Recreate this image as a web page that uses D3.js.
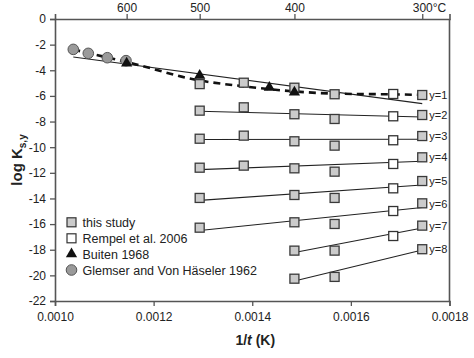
<!DOCTYPE html>
<html><head><meta charset="utf-8">
<script src="https://cdn.jsdelivr.net/npm/d3@7/dist/d3.min.js"></script>
<style>
body{margin:0;background:#fff;}
svg{display:block;font-family:"Liberation Sans",Arial,sans-serif;}
</style></head>
<body><svg id="c" width="474" height="358"></svg>
<script>
// ---- data ----
const xTicks = [0.0010, 0.0012, 0.0014, 0.0016, 0.0018];
const yTicks = [0, -2, -4, -6, -8, -10, -12, -14, -16, -18, -20, -22];
const topTempsC = [600, 500, 400, 300];
const topLabels = ["600", "500", "400", "300"];
// this study: columns at 500, 450, 400, 365, 300 °C
const studyX = [0.0012934, 0.0013828, 0.0014855, 0.0015670, 0.0017447];
const studyY1 = [-5.08, -4.97, -5.36, -5.87, -5.93];
const studyY2 = [-7.15, -6.89, -7.43, -7.80, -7.49];
const studyY3 = [-9.34, -9.10, -9.54, -9.88, -9.13];
const studyY4 = [-11.60, -11.44, -11.65, -11.91, -10.79];
const studyY5 = [-13.96, null, -13.73, -13.96, -12.64];
const studyY6 = [-16.28, null, -15.86, -15.99, -14.38];
const studyY7 = [null, null, -18.07, -18.07, -16.12];
const studyY8 = [null, null, -20.26, -20.12, -17.96];
// Rempel et al. 2006 (320 °C)
const rempelX = 0.0016859;
const rempelY = [-5.85, -7.59, -9.46, -11.31, -13.21, -14.98, -16.93];
// Buiten 1968
const buitenX = [0.0011453, 0.0012934, 0.0014347, 0.0014855];
const buitenY = [-3.46, -4.40, -5.35, -5.72];
// Glemser and Von Häseler 1962
const glemserX = [0.0010371, 0.0010675, 0.0011061, 0.0011440];
const glemserY = [-2.37, -2.68, -3.02, -3.25];
// solid fit lines per y: [x0, y0, x1, y1]
const fitY = ["y=1","y=2","y=3","y=4","y=5","y=6","y=7","y=8"];
const fitX0 = [0.0010371, 0.0012934, 0.0012934, 0.0012934, 0.0012934, 0.0012934, 0.0014855, 0.0014855];
const fitX1 = [0.0017447, 0.0017447, 0.0017447, 0.0017447, 0.0017447, 0.0017447, 0.0017447, 0.0017447];
const fitV0 = [-2.96, -7.20, -9.40, -11.75, -14.15, -16.50, -18.22, -20.44];
const fitV1 = [-6.60, -7.65, -9.38, -11.10, -12.95, -14.70, -16.30, -18.02];
// dashed curve (y=1 overall)
const dashX = [0.0010371, 0.0011000, 0.0011453, 0.0012934, 0.0013828, 0.0014855, 0.0015670, 0.0016859, 0.0017447];
const dashY = [-2.38, -2.95, -3.35, -4.80, -5.25, -5.65, -5.82, -5.88, -5.92];
const legendLabels = ["this study", "Rempel et al. 2006", "Buiten 1968", "Glemser and Von Häseler 1962"];

// ---- chart ----
const svg = d3.select("#c");
const L = 55, R = 449.5, T = 19, B = 301;
const x = d3.scaleLinear().domain([0.0010, 0.0018]).range([L, R]);
const y = d3.scaleLinear().domain([-22, 0]).range([B, T]);
const frameCol = "#555";

// axes
const gL = svg.append("g").attr("transform", `translate(${L},0)`)
  .call(d3.axisLeft(y).tickValues(yTicks).tickFormat(d => String(d)).tickSize(5).tickPadding(4));
const gB = svg.append("g").attr("transform", `translate(0,${B})`)
  .call(d3.axisBottom(x).tickValues(xTicks).tickFormat(d3.format(".4f")).tickSize(5).tickPadding(6));
const topX = topTempsC.map(t => 1 / (t + 273.15));
const gT = svg.append("g").attr("transform", `translate(0,${T})`)
  .call(d3.axisTop(x).tickValues(topX).tickFormat((d, i) => topLabels[i]).tickSize(5).tickPadding(2));
[gL, gB, gT].forEach(g => {
  g.selectAll(".domain").attr("stroke", frameCol).attr("stroke-width", 1.6);
  g.selectAll(".tick line").attr("stroke", frameCol).attr("stroke-width", 1.3);
  g.selectAll("text").attr("font-size", 12).attr("fill", "#222")
    .attr("font-family", "'Liberation Sans',Arial,sans-serif");
});
// add °C to last top label, keep number centred on tick
const lastTop = gT.selectAll(".tick text").filter((d, i) => i === topLabels.length - 1);
lastTop.append("tspan").text("°C");
{
  const node = lastTop.node();
  const full = node.getComputedTextLength();
  const num = node.getSubStringLength(0, topLabels[topLabels.length - 1].length);
  lastTop.attr("text-anchor", "start").attr("x", -num / 2);
}
// right border
svg.append("line").attr("x1", R).attr("x2", R).attr("y1", T).attr("y2", B)
  .attr("stroke", frameCol).attr("stroke-width", 1.6);

// fit lines
const plot = svg.append("g");
fitY.forEach((lab, i) => {
  plot.append("line")
    .attr("x1", x(fitX0[i])).attr("y1", y(fitV0[i]))
    .attr("x2", x(fitX1[i])).attr("y2", y(fitV1[i]))
    .attr("stroke", "#222").attr("stroke-width", 1.1);
});
// dashed curve
const dashPts = dashX.map((d, i) => [d, dashY[i]]);
plot.append("path")
  .attr("d", d3.line().x(d => x(d[0])).y(d => y(d[1])).curve(d3.curveMonotoneX)(dashPts))
  .attr("fill", "none").attr("stroke", "#111").attr("stroke-width", 2.6)
  .attr("stroke-dasharray", "7,5");

// markers
const sq = 9;
const studySeries = [studyY1, studyY2, studyY3, studyY4, studyY5, studyY6, studyY7, studyY8];
const studyPts = [];
studySeries.forEach(s => s.forEach((v, j) => { if (v !== null) studyPts.push([studyX[j], v]); }));
// Rempel
plot.selectAll("rect.rempel").data(rempelY).join("rect").attr("class", "rempel")
  .attr("x", x(rempelX) - sq / 2).attr("y", d => y(d) - sq / 2)
  .attr("width", sq).attr("height", sq)
  .attr("fill", "#fff").attr("stroke", "#333").attr("stroke-width", 1.3);
plot.selectAll("rect.study").data(studyPts).join("rect").attr("class", "study")
  .attr("x", d => x(d[0]) - sq / 2).attr("y", d => y(d[1]) - sq / 2)
  .attr("width", sq).attr("height", sq)
  .attr("fill", "#cbcbcb").attr("stroke", "#3a3a3a").attr("stroke-width", 1.3);
// Glemser circles
plot.selectAll("circle.gl").data(glemserX.map((d, i) => [d, glemserY[i]])).join("circle")
  .attr("class", "gl").attr("cx", d => x(d[0])).attr("cy", d => y(d[1])).attr("r", 5.3)
  .attr("fill", "#9a9a9a").attr("stroke", "#555").attr("stroke-width", 1);
// Buiten triangles
const tri = d3.symbol().type(d3.symbolTriangle).size(55);
plot.selectAll("path.bu").data(buitenX.map((d, i) => [d, buitenY[i]])).join("path")
  .attr("class", "bu").attr("d", tri)
  .attr("transform", d => `translate(${x(d[0])},${y(d[1])})`)
  .attr("fill", "#111");

// y= labels
fitY.forEach((lab, i) => {
  const v = studySeries[i][studySeries[i].length - 1];
  svg.append("text").attr("x", x(studyX[studyX.length - 1]) + 7).attr("y", y(v))
    .attr("dy", "0.38em").attr("font-size", 11).attr("fill", "#222").text(lab);
});

// legend
const lg = svg.append("g");
const lgY = [222.3, 238.3, 254, 270];
legendLabels.forEach((lab, i) => {
  const cx = 71.5, cy = lgY[i];
  if (i === 0 || i === 1) {
    lg.append("rect").attr("x", cx - 4.5).attr("y", cy - 4.5).attr("width", 9).attr("height", 9)
      .attr("fill", i === 0 ? "#cbcbcb" : "#fff").attr("stroke", "#333").attr("stroke-width", 1.2);
  } else if (i === 2) {
    lg.append("path").attr("d", tri).attr("transform", `translate(${cx},${cy})`).attr("fill", "#111");
  } else {
    lg.append("circle").attr("cx", cx).attr("cy", cy).attr("r", 5.3)
      .attr("fill", "#9a9a9a").attr("stroke", "#555");
  }
  lg.append("text").attr("x", 82.5).attr("y", cy).attr("dy", "0.36em")
    .attr("font-size", 12.5).attr("fill", "#222").text(lab);
});

// axis titles
const yt = svg.append("text").attr("transform", `translate(22,${(T + B) / 2}) rotate(-90)`)
  .attr("text-anchor", "middle").attr("font-size", 15).attr("font-weight", "bold").attr("fill", "#222");
yt.append("tspan").text("log K");
yt.append("tspan").attr("font-size", 10).attr("dy", 4).text("s,y");
const xt = svg.append("text").attr("x", (L + R) / 2 + 3).attr("y", 345)
  .attr("text-anchor", "middle").attr("font-size", 14).attr("font-weight", "bold").attr("fill", "#222");
xt.append("tspan").text("1/");
xt.append("tspan").attr("font-style", "italic").text("t");
xt.append("tspan").text(" (K)");
</script></body></html>
